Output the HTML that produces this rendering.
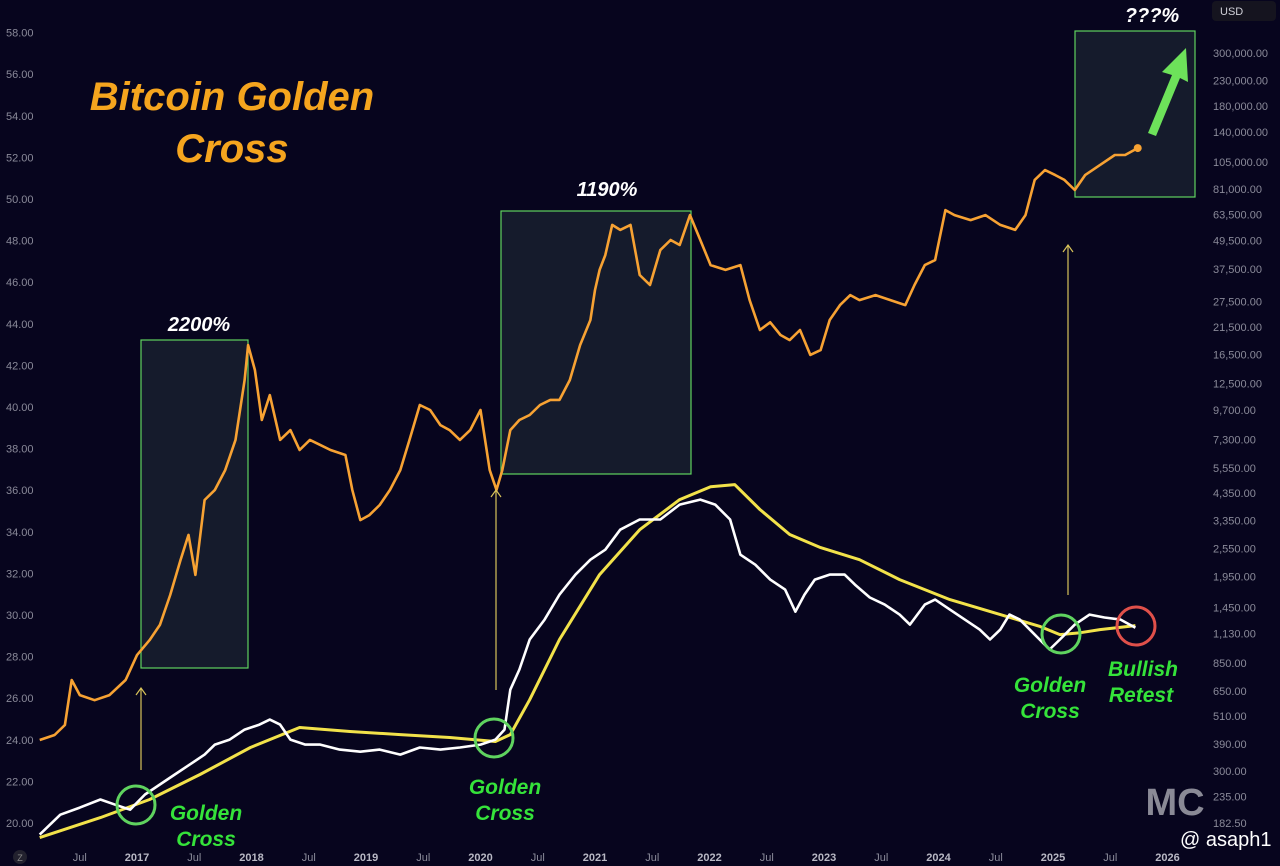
<!DOCTYPE html>
<html><head><meta charset="utf-8"><style>
html,body{margin:0;padding:0;background:#07051e;}
svg{display:block;font-family:"Liberation Sans",sans-serif;}
</style></head><body>
<svg id="chart" width="1280" height="866" viewBox="0 0 1280 866" xmlns="http://www.w3.org/2000/svg">
<rect width="1280" height="866" fill="#07051e"/>
<g id="boxes">
<rect x="141" y="340" width="107" height="328" fill="#151b2c" stroke="#5fd35f" stroke-width="1.2"/>
<rect x="501" y="211" width="190" height="263" fill="#151b2c" stroke="#5fd35f" stroke-width="1.2"/>
<rect x="1075" y="31" width="120" height="166" fill="#151b2c" stroke="#5fd35f" stroke-width="1.2"/>
</g>
<g id="axes"></g>
<g id="series"></g>
<g id="annot">
<line x1="141" y1="770" x2="141" y2="688" stroke="#d8c35a" stroke-width="1.2"/>
<path d="M136 695 L141 688 L146 695" fill="none" stroke="#d8c35a" stroke-width="1.2"/>
<line x1="496" y1="690" x2="496" y2="490" stroke="#d8c35a" stroke-width="1.2"/>
<path d="M491 497 L496 490 L501 497" fill="none" stroke="#d8c35a" stroke-width="1.2"/>
<line x1="1068" y1="595" x2="1068" y2="245" stroke="#d8c35a" stroke-width="1.2"/>
<path d="M1063 252 L1068 245 L1073 252" fill="none" stroke="#d8c35a" stroke-width="1.2"/>
<circle cx="136" cy="805" r="19" fill="none" stroke="#5fd35f" stroke-width="3"/>
<circle cx="494" cy="738" r="19" fill="none" stroke="#5fd35f" stroke-width="3"/>
<circle cx="1061" cy="634" r="19" fill="none" stroke="#5fd35f" stroke-width="3"/>
<circle cx="1136" cy="626" r="19" fill="none" stroke="#e0504a" stroke-width="3"/>
<path d="M1148 133 L1172 75 L1162 72 L1186 48 L1188 82 L1180 78 L1156 136 Z" fill="#6de25a"/>
<g font-weight="bold" font-style="italic" fill="#f5a51e" font-size="40" text-anchor="middle">
<text x="232" y="110">Bitcoin Golden</text>
<text x="232" y="162">Cross</text>
</g>
<g font-weight="bold" font-style="italic" fill="#ffffff" font-size="20" text-anchor="middle">
<text x="199" y="331">2200%</text>
<text x="607" y="196">1190%</text>
<text x="1152" y="22">???%</text>
</g>
<g font-weight="bold" font-style="italic" fill="#35e33a" font-size="21" text-anchor="middle">
<text x="206" y="820">Golden</text>
<text x="206" y="846">Cross</text>
<text x="505" y="794">Golden</text>
<text x="505" y="820">Cross</text>
<text x="1050" y="692">Golden</text>
<text x="1050" y="718">Cross</text>
<text x="1143" y="676">Bullish</text>
<text x="1141" y="702">Retest</text>
</g>
<rect x="1212" y="1" width="64" height="20" rx="4" fill="#15141f"/>
<text x="1220" y="15" font-size="11" fill="#d0d0d8">USD</text>
<text x="1180" y="846" font-size="20" fill="#ffffff">@ asaph1</text>
<text x="1175" y="815" font-size="38" font-weight="bold" fill="#8a8a96" text-anchor="middle">MC</text>
<circle cx="20" cy="857" r="7" fill="#22212e"/>
<text x="20" y="861" font-size="9" fill="#888" text-anchor="middle">Z</text>
</g>
</svg>
<script>
// orange BTC price (right log axis)
const priceDates=[2016.15,2016.28,2016.37,2016.43,2016.50,2016.63,2016.76,2016.90,2017.0,2017.11,2017.20,2017.29,2017.38,2017.45,2017.51,2017.59,2017.68,2017.77,2017.86,2017.94,2017.97,2018.03,2018.09,2018.16,2018.25,2018.34,2018.42,2018.51,2018.60,2018.69,2018.82,2018.88,2018.95,2019.03,2019.12,2019.21,2019.30,2019.38,2019.47,2019.56,2019.65,2019.73,2019.82,2019.91,2020.00,2020.08,2020.14,2020.19,2020.26,2020.34,2020.43,2020.52,2020.61,2020.69,2020.78,2020.87,2020.96,2021.0,2021.04,2021.09,2021.15,2021.22,2021.31,2021.39,2021.48,2021.57,2021.66,2021.74,2021.83,2021.92,2022.01,2022.14,2022.27,2022.35,2022.44,2022.53,2022.62,2022.70,2022.79,2022.88,2022.97,2023.05,2023.14,2023.23,2023.31,2023.45,2023.58,2023.71,2023.79,2023.88,2023.97,2024.06,2024.14,2024.28,2024.41,2024.54,2024.67,2024.76,2024.84,2024.93,2025.02,2025.10,2025.19,2025.28,2025.41,2025.54,2025.63,2025.74];
const priceValues=[405,425,468,721,624,594,624,721,916,1059,1225,1633,2286,2911,1982,4074,4487,5433,7261,12910,18070,14220,8790,11170,7261,7980,6590,7261,6920,6590,6280,4487,3357,3524,3882,4487,5433,7261,10160,9680,8375,7980,7261,7980,9680,5433,4487,5433,7980,8790,9230,10160,10670,10670,12910,18070,23010,30690,37240,42950,57410,54700,57410,35480,32210,45080,49660,47320,63100,49660,38990,37240,38990,27860,20890,22500,19910,18970,20890,16440,17220,23010,26550,29240,27860,29240,27860,26550,32210,38990,40930,66220,63100,60120,63100,57410,54700,63100,88500,97300,92680,88500,80350,92680,102100,112500,112500,120200];
// white ratio line (left axis)
const ratioDates=[2016.15,2016.33,2016.50,2016.68,2016.81,2016.94,2017.07,2017.20,2017.33,2017.46,2017.59,2017.68,2017.81,2017.94,2018.07,2018.16,2018.25,2018.34,2018.47,2018.60,2018.77,2018.95,2019.12,2019.30,2019.47,2019.65,2019.82,2020.00,2020.13,2020.21,2020.26,2020.34,2020.43,2020.56,2020.69,2020.83,2020.96,2021.09,2021.22,2021.39,2021.57,2021.74,2021.92,2022.05,2022.18,2022.27,2022.40,2022.53,2022.66,2022.75,2022.83,2022.92,2023.05,2023.18,2023.27,2023.40,2023.53,2023.66,2023.75,2023.88,2023.97,2024.10,2024.23,2024.36,2024.45,2024.54,2024.62,2024.71,2024.84,2024.97,2025.06,2025.19,2025.32,2025.45,2025.59,2025.67,2025.72];
const ratioValues=[19.44,20.40,20.74,21.13,20.88,20.64,21.37,21.85,22.33,22.81,23.29,23.77,24.01,24.49,24.73,24.97,24.73,24.01,23.77,23.77,23.53,23.43,23.53,23.29,23.63,23.53,23.63,23.77,24.01,24.49,26.41,27.38,28.82,29.78,30.98,31.94,32.66,33.14,34.10,34.59,34.59,35.31,35.55,35.31,34.59,32.90,32.42,31.70,31.22,30.16,30.98,31.70,31.94,31.94,31.46,30.84,30.50,30.02,29.54,30.50,30.74,30.26,29.78,29.30,28.82,29.30,30.02,29.78,29.06,28.34,28.82,29.54,30.02,29.88,29.78,29.54,29.39];
// yellow moving average (left axis)
const maDates=[2016.15,2016.68,2017.11,2017.55,2017.99,2018.42,2018.86,2019.30,2019.73,2020.13,2020.26,2020.43,2020.69,2021.04,2021.39,2021.74,2022.01,2022.22,2022.44,2022.70,2022.97,2023.31,2023.66,2024.10,2024.54,2024.89,2025.06,2025.24,2025.41,2025.72];
const maValues=[19.30,20.26,21.13,22.33,23.63,24.59,24.40,24.25,24.11,23.92,24.25,25.93,28.82,31.94,34.10,35.55,36.17,36.27,35.07,33.87,33.24,32.66,31.70,30.74,30.02,29.44,29.06,29.15,29.30,29.49];
const leftTicks=[20,22,24,26,28,30,32,34,36,38,40,42,44,46,48,50,52,54,56,58];
const rightTicks=[182.5,235,300,390,510,650,850,1130,1450,1950,2550,3350,4350,5550,7300,9700,12500,16500,21500,27500,37500,49500,63500,81000,105000,140000,180000,230000,300000];
const xTickLabels=["Jul","2017","Jul","2018","Jul","2019","Jul","2020","Jul","2021","Jul","2022","Jul","2023","Jul","2024","Jul","2025","Jul","2026"];
const xTickDates=[2016.5,2017,2017.5,2018,2018.5,2019,2019.5,2020,2020.5,2021,2021.5,2022,2022.5,2023,2023.5,2024,2024.5,2025,2025.5,2026];

const NS="http://www.w3.org/2000/svg";
const xS=t=>137+(t-2017)*114.5;
const yL=v=>823-(v-20)*20.8;
const yR=p=>53+(Math.log10(300000)-Math.log10(p))*239.4;
const axes=document.getElementById('axes'), series=document.getElementById('series');
function txt(parent,x,y,s,attrs){const e=document.createElementNS(NS,'text');e.setAttribute('x',x);e.setAttribute('y',y);for(const k in attrs)e.setAttribute(k,attrs[k]);e.textContent=s;parent.appendChild(e);return e;}
leftTicks.forEach(v=>{const e=txt(axes,6,yL(v)+4,v.toFixed(2),{'font-size':'11','fill':'#8a8a99'});

});
rightTicks.forEach(p=>{const e=txt(axes,1213,yR(p)+4,p.toLocaleString('en-US',{minimumFractionDigits:2,maximumFractionDigits:2}),{'font-size':'11','fill':'#8a8a99'});

});
xTickLabels.forEach((l,i)=>{const bold=l!=="Jul";const e=txt(axes,xS(xTickDates[i]),861,l,{'font-size':'11','fill':bold?'#b8b8c4':'#8a8a99','font-weight':bold?'bold':'normal','text-anchor':'middle'});

});
function line(dates,vals,yf,color,w,name){const p=document.createElementNS(NS,'path');
p.setAttribute('d',dates.map((d,i)=>(i?'L':'M')+xS(d).toFixed(1)+' '+yf(vals[i]).toFixed(1)).join(' '));
p.setAttribute('fill','none');p.setAttribute('stroke',color);p.setAttribute('stroke-width',w);p.setAttribute('stroke-linejoin','round');


series.appendChild(p);}
line(maDates,maValues,yL,'#f2e24a',3,'moving-average-line');
line(ratioDates,ratioValues,yL,'#ffffff',2.6,'ratio-line');
line(priceDates,priceValues,yR,'#f7a233',2.6,'btc-price-line');
const last=priceDates.length-1;const c=document.createElementNS(NS,'circle');
c.setAttribute('cx',xS(priceDates[last]));c.setAttribute('cy',yR(priceValues[last]));c.setAttribute('r',4);c.setAttribute('fill','#f7a233');


series.appendChild(c);
</script>
</body></html>
